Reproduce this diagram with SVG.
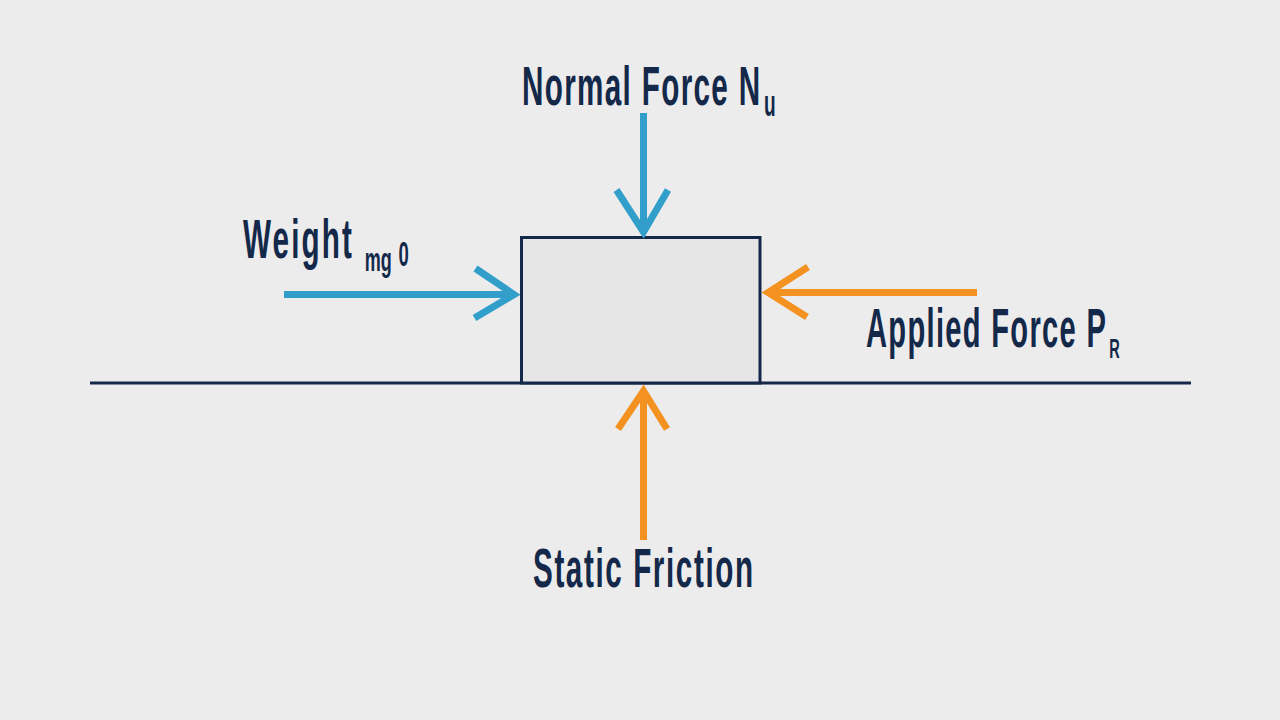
<svg xmlns="http://www.w3.org/2000/svg" width="1280" height="720" viewBox="0 0 1280 720">
<style>
.t{font-family:"Liberation Sans",Arial,sans-serif;font-weight:700;fill:#14294a;font-size:56px;letter-spacing:2.5px}
.s{fill:none;stroke-width:7;stroke-linecap:butt;stroke-linejoin:miter}
.b{stroke:#329fca}
.o{stroke:#f49221}
</style>
<rect width="1280" height="720" fill="#ececed"/>
<g id="ground"><line x1="90" y1="383" x2="1191" y2="383" stroke="#14294a" stroke-width="3"/></g>
<g id="block"><rect x="521.500" y="237.500" width="238.500" height="145.500" fill="#e6e6e7" stroke="#14294a" stroke-width="3"/></g>
<g id="connectors">
<path class="s b" d="M643.500 113V232"/><path class="s b" d="M616.500 190L643.500 232L668 190"/>
<path class="s b" d="M284 294.500H514"/><path class="s b" d="M475.500 268.500L514 294.500L474.500 318"/>
<path class="s o" d="M977 292.500H768"/><path class="s o" d="M808 267L768 292.500L807 317"/>
<path class="s o" d="M643.500 540V391"/><path class="s o" d="M618 429L643.500 391L667 429"/>
</g>
<g id="normal-force"><text class="t" transform="translate(522 105) scale(.53 1)">Normal Force N<tspan font-size="36" dy="11" dx="5">u</tspan></text></g>
<g id="weight"><text class="t" transform="translate(243 258) scale(.53 1)" style="letter-spacing:4px">Weight<tspan font-size="34" dy="13" dx="20" style="letter-spacing:0">mg</tspan><tspan font-size="35" dy="-5" dx="13">0</tspan></text></g>
<g id="applied-force"><text class="t" transform="translate(866 347) scale(.52 1)">Applied Force P<tspan font-size="28" dy="11" dx="4">R</tspan></text></g>
<g id="static-friction"><text class="t" transform="translate(533 587) scale(.53 1)" style="letter-spacing:3px">Static Friction</text></g>
</svg>
